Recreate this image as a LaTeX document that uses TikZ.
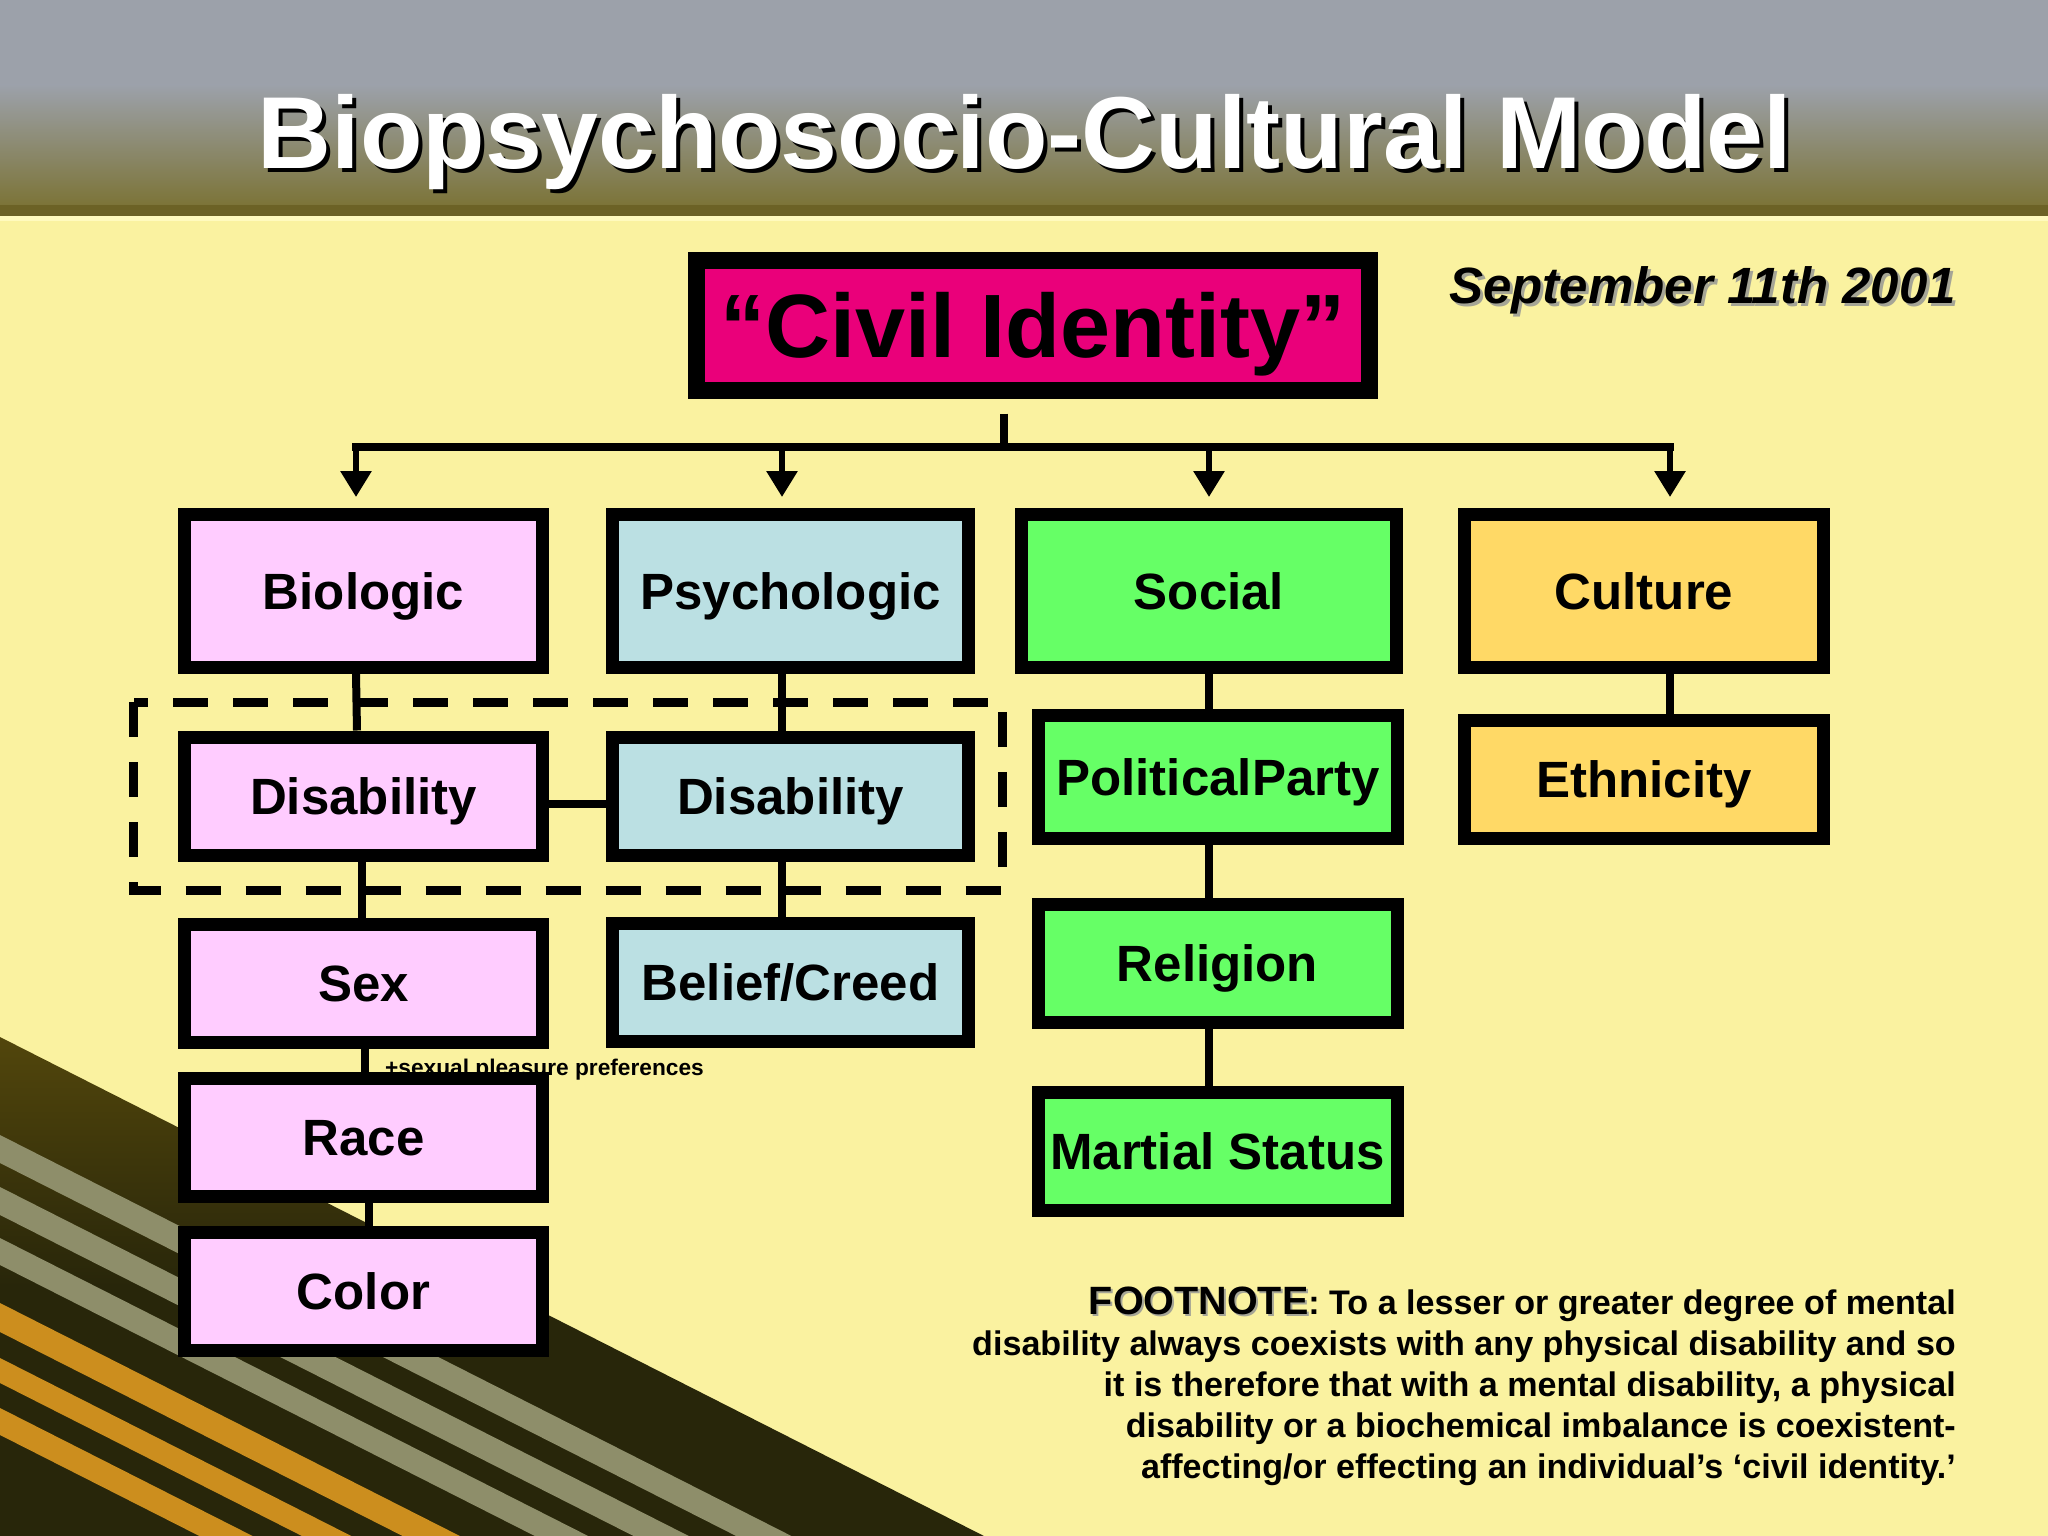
\documentclass[tikz,border=0pt]{standalone}
\usepackage{fontspec}
\setmainfont{Liberation Sans}
\usetikzlibrary{arrows.meta}

\definecolor{paper}{RGB}{250,242,160}
\definecolor{bandgray}{RGB}{156,161,170}
\definecolor{bandolive}{RGB}{124,116,56}
\definecolor{bandline}{RGB}{108,98,38}
\definecolor{bandlight}{RGB}{255,250,190}
\definecolor{wedge}{RGB}{40,38,10}
\definecolor{wedgetop}{RGB}{82,70,12}
\definecolor{stripegray}{RGB}{142,142,106}
\definecolor{stripeorange}{RGB}{204,142,30}
\definecolor{shadowgray}{RGB}{165,165,150}
\definecolor{bioPink}{RGB}{255,204,255}
\definecolor{psyBlue}{RGB}{187,224,227}
\definecolor{socGreen}{RGB}{102,255,102}
\definecolor{cultGold}{RGB}{255,217,102}
\definecolor{civilRed}{RGB}{234,0,122}

\tikzset{
  box/.style={draw=black, line width=13pt, inner sep=0pt,
    minimum width=358pt, minimum height=118pt,
    font=\bfseries\fontsize{51}{61}\selectfont,
    text height=36.5pt, text depth=0pt},
  pinkbox/.style={box, fill=bioPink},
  bluebox/.style={box, fill=psyBlue, minimum width=356pt},
  greenbox/.style={box, fill=socGreen, minimum width=359pt},
  goldbox/.style={box, fill=cultGold, minimum width=359pt},
  tall/.style={minimum height=153pt},
  civilbox/.style={box, fill=civilRed, line width=17pt,
    minimum width=673pt, minimum height=130pt,
    font=\bfseries\fontsize{90}{108}\selectfont, text height=64pt},
  link/.style={line width=8pt},
  feed/.style={line width=6pt, -{Triangle[length=26pt,width=30pt]}},
  fence/.style={line width=9pt, dash pattern=on 35pt off 25pt},
  titletext/.style={anchor=base, inner sep=0pt, text=white,
    font=\bfseries\fontsize{102.3}{122}\selectfont},
  datetext/.style={anchor=base east, inner sep=0pt,
    font=\bfseries\itshape\fontsize{51}{61}\selectfont},
  note/.style={anchor=base west, inner sep=0pt,
    font=\bfseries\fontsize{22.7}{27}\selectfont},
  footnotetext/.style={anchor=north east, inner sep=0pt, align=right,
    font=\bfseries\fontsize{34.1}{41}\selectfont}
}

\begin{document}
\begin{tikzpicture}[x=1pt,y=-1pt]
	\useasboundingbox (0,0) rectangle (2048,1536);
	\begin{scope}
	\clip (0,0) rectangle (2048,1536);
	\fill[paper] (0,0) rectangle (2048,1536);
	% stripes in the lower left corner
	\shade[top color=wedgetop, bottom color=wedge, middle color=wedge] (0,1037) -- (984,1536) -- (0,1536) -- cycle;
	\fill[stripegray] (0,1135) -- (1200,1743) -- (1200,1771) -- (0,1163) -- cycle;
	\fill[stripegray] (0,1187) -- (1200,1795) -- (1200,1823) -- (0,1215) -- cycle;
	\fill[stripegray] (0,1238) -- (1200,1846) -- (1200,1873) -- (0,1265) -- cycle;
	\fill[stripeorange] (0,1303) -- (1200,1911) -- (1200,1940) -- (0,1332) -- cycle;
	\fill[stripeorange] (0,1358) -- (1200,1966) -- (1200,1991) -- (0,1383) -- cycle;
	\fill[stripeorange] (0,1408) -- (1200,2016) -- (1200,2043) -- (0,1435) -- cycle;
	% title band
	\fill[bandgray] (0,0) rectangle (2048,85);
	\shade[top color=bandgray, bottom color=bandolive] (0,85) rectangle (2048,205);
	\fill[bandline] (0,205) rectangle (2048,216);
	\fill[bandlight] (0,216) rectangle (2048,221);
	\end{scope}

	\node[titletext] (title) at (1025,168)
	  {\rlap{\kern4pt\raisebox{-4pt}{\color{black}Biopsychosocio-Cultural Model}}Biopsychosocio-Cultural Model};
	\node[datetext] (date) at (1956,303)
	  {\rlap{\kern3pt\raisebox{-3pt}{\color{shadowgray}September 11th 2001}}September 11th 2001};
	\node[note] (pleasure) at (385,1075) {+sexual pleasure preferences};

	\node[civilbox] (civil) at (1033,325) {“Civil Identity”};

	\node[pinkbox, tall] (biologic) at (363.5,591) {Biologic};
	\node[bluebox, tall] (psychologic) at (790.5,591) {Psychologic};
	\node[greenbox, tall, minimum width=375pt] (social) at (1209,591) {Social};
	\node[goldbox, tall] (culture) at (1644,591) {Culture};

	\node[pinkbox] (disabilityA) at (363.5,796) {Disability};
	\node[bluebox] (disabilityB) at (790.5,796) {Disability};
	\node[greenbox, minimum height=123pt] (party) at (1218,777) {PoliticalParty};
	\node[goldbox] (ethnicity) at (1644,779) {Ethnicity};

	\node[pinkbox] (sex) at (363.5,983) {Sex};
	\node[bluebox] (belief) at (790.5,982) {Belief/Creed};
	\node[greenbox] (religion) at (1217.5,963) {Religion};
	\node[pinkbox] (race) at (363.5,1137.5) {Race};
	\node[greenbox] (marital) at (1217.5,1151) {Martial Status};
	\node[pinkbox] (color) at (363.5,1291) {Color};

	\draw[fence] (133.5,702) rectangle (1002.5,890);

	% branching under the top box
	\coordinate (hub) at ([xshift=-29pt,yshift=-48pt]civil.south);
	\coordinate (bioTop) at ([xshift=-7.5pt,yshift=11pt]biologic.north);
	\coordinate (psyTop) at ([xshift=-8.5pt,yshift=11pt]psychologic.north);
	\coordinate (socTop) at ([yshift=11pt]social.north);
	\coordinate (cultTop) at ([xshift=26pt,yshift=11pt]culture.north);
	\draw[link] ([yshift=33pt]hub) -- (hub);
	\draw[link, line cap=rect] (bioTop |- hub) -- (cultTop |- hub);
	\draw[feed] (bioTop |- hub) -- (bioTop);
	\draw[feed] (psyTop |- hub) -- (psyTop);
	\draw[feed] (socTop |- hub) -- (socTop);
	\draw[feed] (cultTop |- hub) -- (cultTop);

	\draw[link] ([xshift=-7.5pt]biologic.south) -- ([xshift=-6.5pt]disabilityA.north);
	\draw[link] ([xshift=-1.5pt]disabilityA.south) -- ([xshift=-1.5pt]sex.north);
	\draw[link] ([xshift=1.5pt]sex.south) -- ([xshift=1.5pt]race.north);
	\draw[link] ([xshift=5.5pt]race.south) -- ([xshift=5.5pt]color.north);
	\draw[link] ([xshift=-8.5pt]psychologic.south) -- ([xshift=-8.5pt]disabilityB.north);
	\draw[link] ([xshift=-8.5pt]disabilityB.south) -- ([xshift=-8.5pt]belief.north);
	\draw[link] ([yshift=-8pt]disabilityA.east) -- ([yshift=-8pt]disabilityB.west);
	\draw[link] (social.south) -- ([xshift=-9pt]party.north);
	\draw[link] ([xshift=-9pt]party.south) -- ([xshift=-8.5pt]religion.north);
	\draw[link] ([xshift=-8.5pt]religion.south) -- ([xshift=-8.5pt]marital.north);
	\draw[link] ([xshift=26pt]culture.south) -- ([xshift=26pt]ethnicity.north);

	\node[footnotetext] (footnote) at (1956,1287)
	  {{\fontsize{39.5}{41}\selectfont\rlap{\kern2pt\raisebox{-2pt}{\color{shadowgray}FOOTNOTE}}FOOTNOTE}: To a lesser or greater degree of mental\\
	   disability always coexists with any physical disability and so\\
	   it is therefore that with a mental disability, a physical\\
	   disability or a biochemical imbalance is coexistent-\\
	   affecting/or effecting an individual’s ‘civil identity.’};
\end{tikzpicture}
\end{document}
